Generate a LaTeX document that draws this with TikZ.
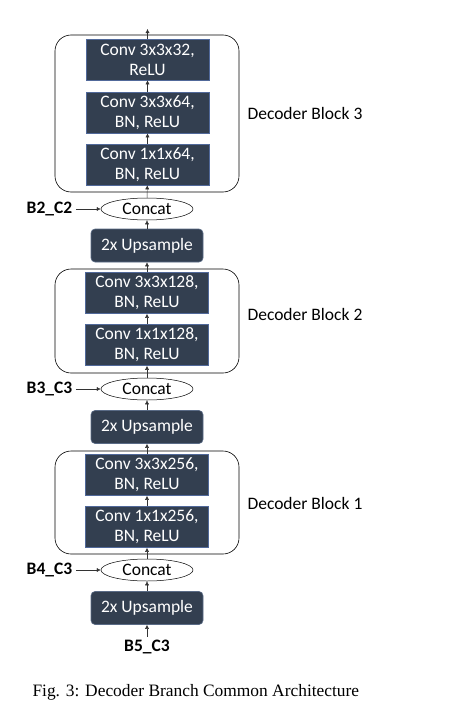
\documentclass[tikz,border=0pt]{standalone}
\usepackage{fontspec}
\setmainfont{Carlito}
\newfontfamily\capfont{Liberation Serif}
\usetikzlibrary{shapes.geometric,arrows.meta}
\definecolor{layerfill}{HTML}{333F50}
\definecolor{layeredge}{HTML}{51699A}
\definecolor{upedge}{HTML}{5A6B86}
\tikzset{
    layer/.style={draw=layeredge, line width=0.6pt, fill=layerfill, text=white,
        minimum width=123pt, minimum height=41pt, align=center, inner sep=0pt,
        font=\fontsize{17.5}{20}\selectfont},
    upbox/.style={draw=upedge, line width=0.6pt, fill=layerfill, text=white, rounded corners=4pt,
        minimum width=112pt, minimum height=33pt, inner sep=0pt,
        font=\fontsize{17.5}{20}\selectfont},
    concat/.style={ellipse, draw, line width=0.5pt, minimum width=92pt, minimum height=22pt,
        inner sep=0pt, font=\fontsize{17.5}{20}\selectfont},
    blockbox/.style={draw, line width=0.6pt, rounded corners=16pt},
    skip/.style={font=\bfseries\fontsize{17.5}{20}\selectfont},
    flow/.style={-{Latex[length=4pt,width=4pt]}, line width=0.4pt, draw=black!80}
}
\begin{document}
\begin{tikzpicture}[x=1pt,y=-1pt]
    \useasboundingbox (0,0) rectangle (472,720);

    % decoder block outlines
    \draw [blockbox] (55,35) rectangle (239,192);
    \draw [blockbox] (55,269) rectangle (239,373);
    \draw [blockbox] (55,451) rectangle (239,554);

    \node [layer] (c332) at (147.5,59.5) {Conv 3x3x32,\\ReLU};
    \node [layer] (c3364) at (147.5,112.5) {Conv 3x3x64,\\BN, ReLU};
    \node [layer] (c1164) at (147.5,164.5) {Conv 1x1x64,\\BN, ReLU};
    \node [concat] (cat3) at (147,209) {Concat};
    \node [upbox] (up3) at (147,245.5) {2x Upsample};

    \node [layer] (c33128) at (147,293) {Conv 3x3x128,\\BN, ReLU};
    \node [layer] (c11128) at (147,345) {Conv 1x1x128,\\BN, ReLU};
    \node [concat] (cat2) at (147,389) {Concat};
    \node [upbox] (up2) at (147,427) {2x Upsample};

    \node [layer] (c33256) at (147,475) {Conv 3x3x256,\\BN, ReLU};
    \node [layer] (c11256) at (147,527) {Conv 1x1x256,\\BN, ReLU};
    \node [concat] (cat1) at (147,570) {Concat};
    \node [upbox] (up1) at (147,608) {2x Upsample};

    \node [skip] (b2c2) at (49.5,209) {B2\_C2};
    \node [skip] (b3c3) at (49.5,389) {B3\_C3};
    \node [skip] (b4c3) at (49.5,570) {B4\_C3};
    \node [skip] (b5c3) at (147,647) {B5\_C3};
    \coordinate (out) at (147.5,29);

    \node [anchor=west, font=\fontsize{17.5}{20}\selectfont] (dec3) at (244,113) {Decoder Block 3};
    \node [anchor=west, font=\fontsize{17.5}{20}\selectfont] (dec2) at (244,314) {Decoder Block 2};
    \node [anchor=west, font=\fontsize{17.5}{20}\selectfont] (dec1) at (244,503) {Decoder Block 1};

    \draw [flow] (b5c3) -- (up1);
    \draw [flow] (up1) -- (cat1);
    \draw [flow] (b4c3) -- (cat1);
    \draw [flow] (cat1) -- (c11256);
    \draw [flow] (c11256) -- (c33256);
    \draw [flow] (c33256) -- (up2);
    \draw [flow] (up2) -- (cat2);
    \draw [flow] (b3c3) -- (cat2);
    \draw [flow] (cat2) -- (c11128);
    \draw [flow] (c11128) -- (c33128);
    \draw [flow] (c33128) -- (up3);
    \draw [flow] (up3) -- (cat3);
    \draw [flow] (b2c2) -- (cat3);
    \draw [flow] (cat3) -- (c1164);
    \draw [flow] (c1164) -- (c3364);
    \draw [flow] (c3364) -- (c332);
    \draw [flow] (c332) -- (out);

    \node [anchor=west, font=\capfont\fontsize{17.4}{20}\selectfont] (caption) at (29,692)
        {Fig. 3: Decoder Branch Common Architecture};
\end{tikzpicture}
\end{document}
